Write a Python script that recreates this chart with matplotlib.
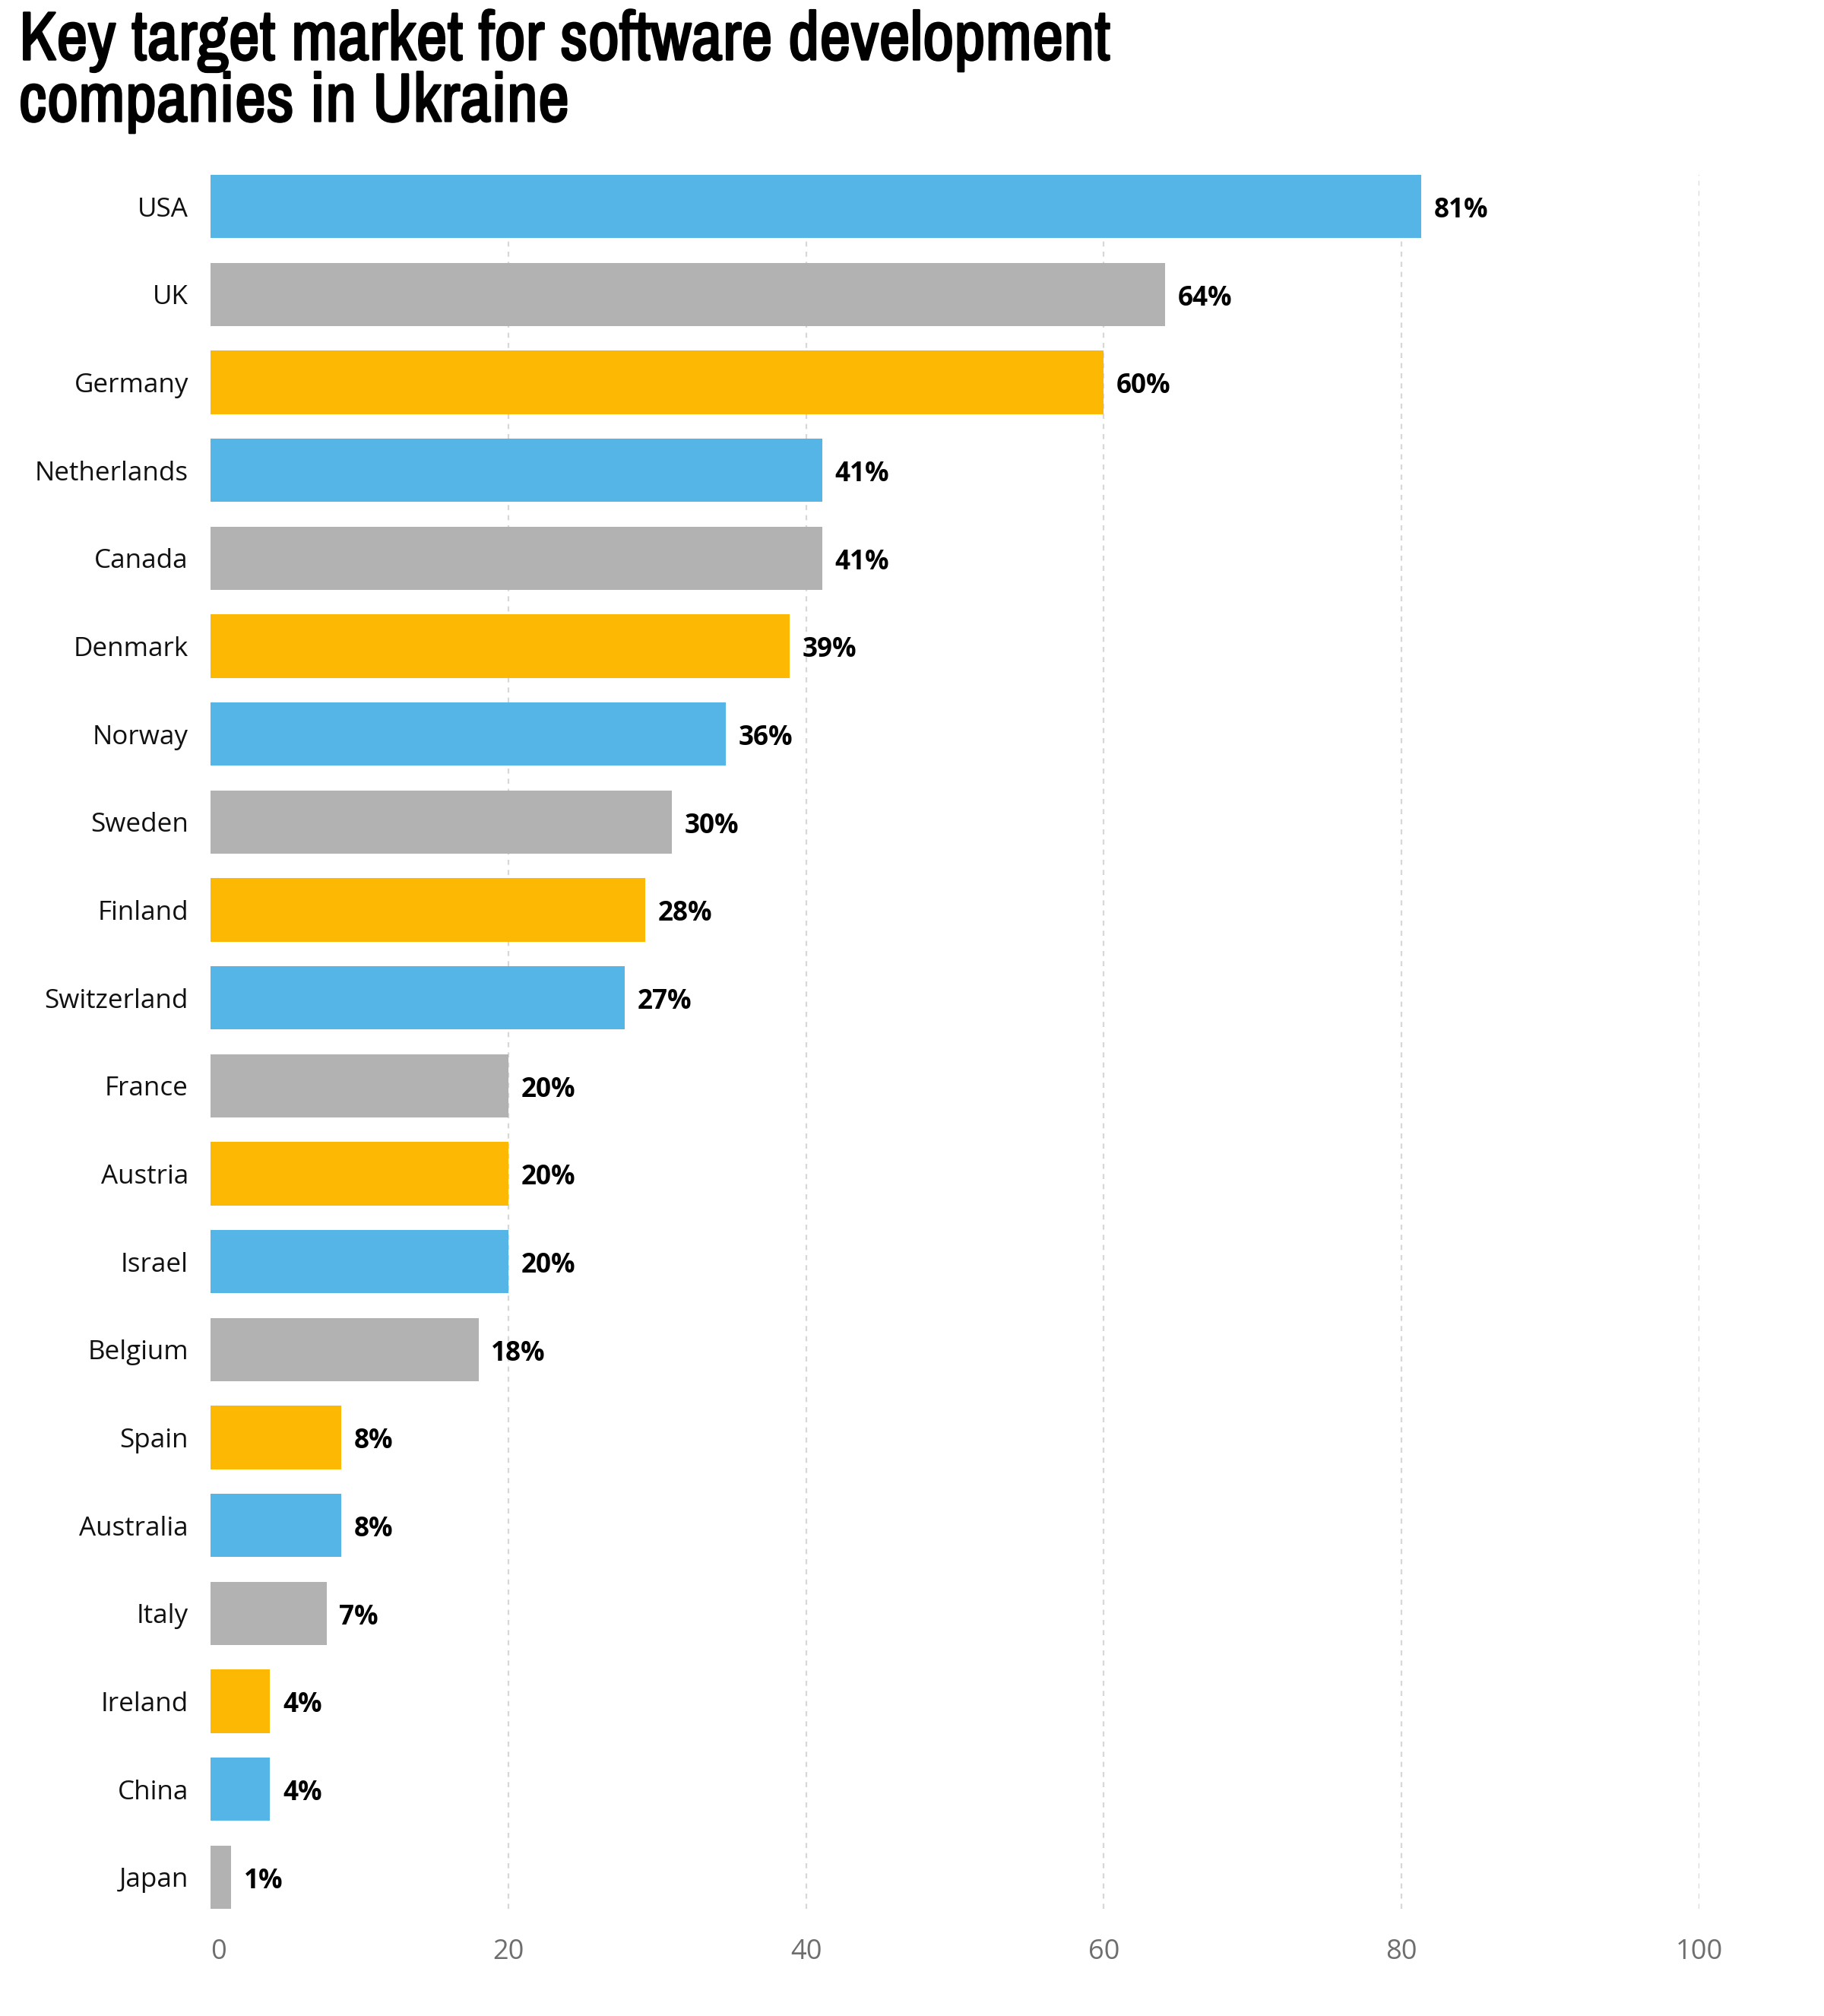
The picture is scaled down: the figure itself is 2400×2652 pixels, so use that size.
import matplotlib
matplotlib.use("Agg")
import matplotlib.pyplot as plt
import matplotlib.patheffects as pe
from matplotlib import font_manager

countries = ['USA', 'UK', 'Germany', 'Netherlands', 'Canada', 'Denmark', 'Norway',
             'Sweden', 'Finland', 'Switzerland', 'France', 'Austria', 'Israel',
             'Belgium', 'Spain', 'Australia', 'Italy', 'Ireland', 'China', 'Japan']
# bar lengths as drawn in the original (labels don't always match exactly)
values = [81.3, 64.1, 60.0, 41.1, 41.1, 38.9, 34.6, 31.0, 29.2, 27.8,
          20.0, 20.0, 20.0, 18.0, 8.8, 8.8, 7.8, 4.0, 4.0, 1.4]
value_labels = ['81%', '64%', '60%', '41%', '41%', '39%', '36%', '30%', '28%', '27%',
                '20%', '20%', '20%', '18%', '8%', '8%', '7%', '4%', '4%', '1%']
xticks = [0, 20, 40, 60, 80, 100]

palette = ['#54B5E6', '#B2B2B2', '#FDB803']
colors = [palette[i % 3] for i in range(len(countries))]

# narrow face for the title (only a regular weight is installed, so it gets
# a thin stroke to look bold); fall back to condensed DejaVu bold
title_kw = {'family': 'DejaVu Sans', 'fontstretch': 'condensed',
            'fontweight': 'bold', 'fontsize': 26.5}
for f in font_manager.fontManager.ttflist:
    if ('Narrow' in f.name or 'Condensed' in f.name) and f.style == 'normal':
        title_kw = {'family': f.name, 'fontsize': 32.5,
                    'path_effects': [pe.withStroke(linewidth=0.9, foreground='black')]}
        break

plt.rcParams['font.family'] = 'Open Sans'

fig = plt.figure(figsize=(12, 13.26), dpi=200)
ax = fig.add_axes([0.1154, 0.0532, 0.8163, 0.8601])

y = range(len(countries))
ax.barh(y, values, height=0.72, color=colors, zorder=2)

for yi, v, lab in zip(y, values, value_labels):
    ax.annotate(lab, (v, yi), xytext=(6, -2), textcoords='offset points',
                ha='left', va='center', fontsize=12.6, fontweight='bold', color='black')

ax.set_ylim(len(countries) - 1 + 0.36, -0.36)
ax.set_xlim(0, 100)
ax.set_yticks(list(y))
ax.set_yticklabels(countries, fontsize=12.6, color='#111111', va='center_baseline')
ax.set_xticks(xticks)
ax.set_xticklabels([str(t) for t in xticks], fontsize=13, color='#6e6e6e')
ax.get_xticklabels()[0].set_ha('left')
ax.tick_params(axis='y', length=0, pad=10.5)
ax.tick_params(axis='x', length=0, pad=14)

for t in xticks[1:]:
    ax.axvline(t, color='#d8d8d8', lw=0.8, ls=(0, (3, 3)), zorder=1)
for s in ax.spines.values():
    s.set_visible(False)

fig.text(0.0104, 0.9955, 'Key target market for software development\ncompanies in Ukraine',
         ha='left', va='top', linespacing=0.97, color='black', **title_kw)

fig.savefig('out.png', dpi=200)
